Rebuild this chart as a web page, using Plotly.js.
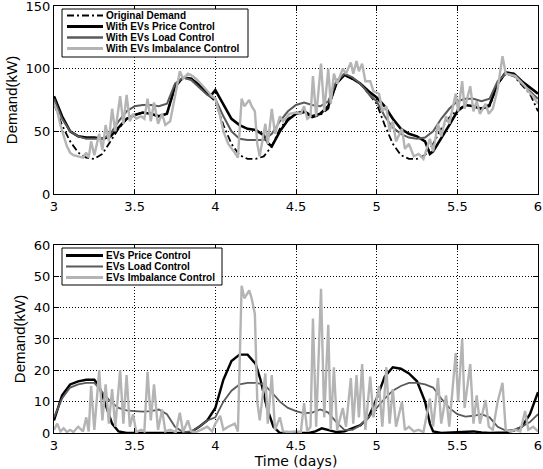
<!DOCTYPE html>
<html><head><meta charset="utf-8">
<script src="https://cdn.plot.ly/plotly-3.0.1.min.js"></script>
<style>html,body{margin:0;padding:0;background:#fff;}#chart{width:543px;height:469px;}</style>
</head><body><div id="chart"></div>
<script>
// ---------- data ----------
const tickVals = [3, 3.5, 4, 4.5, 5, 5.5, 6];
const tickText = ['3', '3.5', '4', '4.5', '5', '5.5', '6'];

// smooth series sampled every 0.05 day
const tStd = [3.00,3.05,3.10,3.15,3.20,3.25,3.30,3.35,3.40,3.45,3.50,3.55,3.60,3.65,3.70,3.75,3.80,3.85,3.90,3.95,
              4.00,4.05,4.10,4.15,4.20,4.25,4.30,4.35,4.40,4.45,4.50,4.55,4.60,4.65,4.70,4.75,4.80,4.85,4.90,4.95,
              5.00,5.05,5.10,5.15,5.20,5.25,5.30,5.35,5.40,5.45,5.50,5.55,5.60,5.65,5.70,5.75,5.80,5.85,5.90,5.95,6.00];
const originalDemand = [72,55,42,33,29,28,32,42,52,60, 63,65,64,62,64,85,93,92,87,80,
                        74,55,40,31,28,28,30,38,52,60, 64,65,61,63,68,88,95,92,88,80,
                        72,55,40,31,28,28,31,40,52,61, 67,71,70,68,70,88,96,94,87,80, 66];
const loadTop = [76,60,50,46,44,44,44,48,58,66, 70,71,71,70,72,88,93,91,85,79,
                 76,62,50,44,43,43,43,48,58,66, 71,73,71,70,74,90,96,93,88,80,
                 74,62,53,48,45,44,45,50,60,68, 74,76,76,74,76,90,96,95,88,82, 76];
const loadEV = [5,11,14.5,15.5,16,16,13,10,8,7.2, 7,6.8,7,7.5,6,2,0.3,0.5,2,4,
                5,10,13.5,15.5,16,16,15.5,13,10,8, 7,6.3,6.5,7.5,6.5,3.5,1,1,2.5,5,
                8,11,13.5,15,16,16,15.5,14.5,11,8, 6,5.2,5.5,6,5,2,0.8,1,2,3.5, 6];

// price control (top)
const tPriceTop = [3.00,3.05,3.10,3.15,3.20,3.25,3.30,3.35,3.40,3.45,3.50,3.55,3.60,3.65,3.70,3.75,3.80,3.85,3.90,3.95,3.97,
                   4.00,4.05,4.10,4.15,4.20,4.25,4.30,4.33,4.35,4.40,4.45,4.50,4.55,4.60,4.65,4.70,4.75,4.80,4.85,4.90,4.95,
                   5.00,5.05,5.10,5.15,5.20,5.25,5.30,5.33,5.35,5.40,5.45,5.50,5.55,5.60,5.65,5.70,5.75,5.80,5.85,5.90,5.95,6.00];
const priceTop = [78,62,50,46,45,45,44,46,53,60,63,65,64,62,64,86,93,92,87,80,78,
                  83,72,60,55,52,51,47,40,38,50,59,64,66,62,64,70,88,95,92,88,82,
                  77,70,60,52,48,46,42,32,34,44,55,66,71,70,68,71,88,97,96,90,85,80];

// price control (bottom, EV demand)
const tPriceEV = [3.00,3.05,3.10,3.15,3.20,3.25,3.28,3.32,3.36,3.40,3.45,3.80,3.85,3.90,3.95,
                  4.00,4.05,4.10,4.15,4.20,4.25,4.28,4.32,4.36,4.40,4.58,4.62,4.66,4.70,4.75,4.80,4.85,4.90,4.95,
                  5.00,5.05,5.10,5.15,5.20,5.25,5.30,5.33,5.35,5.40,5.55,5.60,5.65,5.70,5.80,5.85,5.90,5.95,6.00];
const priceEV = [4,12,15.5,16.5,17,17,15,9,3,0.5,0,0,0.3,2,4,
                 8,17,23,25,25,22,17,8,2,0,0,0.5,1.5,1,0.3,0.5,1.5,2.5,5,
                 11,18,21,20.5,19,16.5,10,3,0.5,0,0.3,0.5,0.2,0,0.2,0.8,2,6,13];

// imbalance control (jagged)
const tImb = [3.00,3.02,3.04,3.06,3.08,3.10,3.12,3.15,3.18,3.20,3.215,3.23,3.25,3.28,3.30,3.32,3.34,3.36,3.38,3.41,
              3.43,3.45,3.47,3.49,3.51,3.54,3.56,3.58,3.60,3.62,3.645,3.67,3.69,3.72,3.755,3.78,3.80,3.83,3.85,3.88,
              3.91,3.95,3.98,4.00,4.03,4.05,4.08,4.12,4.14,4.163,4.18,4.21,4.225,4.245,4.26,4.275,4.31,4.325,4.35,4.37,
              4.40,4.42,4.46,4.50,4.53,4.55,4.57,4.59,4.605,4.625,4.655,4.675,4.70,4.715,4.735,4.755,4.79,4.81,4.84,4.855,
              4.875,4.89,4.91,4.93,4.96,4.98,5.015,5.035,5.06,5.08,5.10,5.12,5.157,5.175,5.20,5.23,5.26,5.29,5.33,5.35,
              5.38,5.40,5.43,5.45,5.49,5.505,5.53,5.545,5.58,5.60,5.62,5.64,5.675,5.695,5.72,5.75,5.78,5.80,5.83,5.86,
              5.89,5.92,5.94,5.97,6.00];
const imbTop = [72,66,55,46,38,33,31,30,29,33,29,42,31,48,35,55,42,68,50,78,
                56,79,58,64,60,62,60,76,58,73,56,64,55,58,80,98,92,96,95,92,
                88,82,78,76,62,50,40,33,29,76,70,75,70,66,40,30,56,40,68,48,
                62,58,64,65,64,70,60,62,94,62,104,66,100,72,96,88,100,96,105,96,
                106,98,104,90,90,82,80,66,70,50,58,42,52,36,40,30,32,28,44,34,
                56,46,62,56,80,66,90,68,86,66,74,64,72,64,68,84,110,96,95,94,
                90,86,82,78,72];
const imbEV = [1,3,0.5,1.5,0.3,1,0.3,2,0.5,5,0.5,15,1,20,4,15.5,3,14,2,20,
               3,18.5,2,6,0.3,1,0.5,19.5,4,15.5,1,7.5,0.5,1,0.3,6.5,0.3,4,0.5,0.3,
               1,2,0.5,3,5.5,1,2,3,0.5,47,43,45.5,43,38,10,4,19,3,18.5,1,
               5,0.5,0.3,0.5,0.3,9.5,0.5,2,36.5,2,46,5,34.5,1,21,1,8,2,17.5,3,
               18.5,5,22,1,18,5,15,2,21,3,14,2,10,1,2,0.5,1,0.3,11,2,
               17.5,3,12,2,25.5,10,30,8,22,3,12,3,10.5,2,1,10,16,1,0.5,1,
               0.5,7,1,2,0.5];

// ---------- styles ----------
const cBlack = '#000000', cLoad = '#5a5a5a', cImb = '#b4b4b4';
const dashDot = '7px,3px,2px,3px';

const traces = [
  {x: tStd, y: originalDemand, name: 'Original Demand', xaxis: 'x', yaxis: 'y', mode: 'lines',
   line: {color: cBlack, width: 1.8, dash: dashDot}},
  {x: tPriceTop, y: priceTop, name: 'With EVs Price Control', xaxis: 'x', yaxis: 'y', mode: 'lines',
   line: {color: cBlack, width: 2.6}},
  {x: tStd, y: loadTop, name: 'With EVs Load Control', xaxis: 'x', yaxis: 'y', mode: 'lines',
   line: {color: cLoad, width: 2}},
  {x: tImb, y: imbTop, name: 'With EVs Imbalance Control', xaxis: 'x', yaxis: 'y', mode: 'lines',
   line: {color: cImb, width: 2.4}},
  {x: tPriceEV, y: priceEV, name: 'EVs Price Control', xaxis: 'x2', yaxis: 'y2', mode: 'lines',
   line: {color: cBlack, width: 2.4}},
  {x: tStd, y: loadEV, name: 'EVs Load Control', xaxis: 'x2', yaxis: 'y2', mode: 'lines',
   line: {color: cLoad, width: 1.8}},
  {x: tImb, y: imbEV, name: 'EVs Imbalance Control', xaxis: 'x2', yaxis: 'y2', mode: 'lines',
   line: {color: cImb, width: 2.4}}
];
traces.forEach(t => { t.showlegend = false; t.hoverinfo = 'skip'; });

// ---------- layout ----------
const W = 543, H = 469, ML = 54, MR = 5, MT = 6, MB = 36;
const pxX = v => (v - ML) / (W - ML - MR);
const pxY = v => (H - MB - v) / (H - MT - MB);

const tickFont = {family: 'DejaVu Sans, Arial, sans-serif', size: 13, color: '#000'};
const baseAxis = {
  showline: true, linecolor: '#000', linewidth: 1, mirror: 'ticks',
  ticks: 'inside', ticklen: 5, tickcolor: '#000', tickwidth: 1,
  showgrid: true, gridcolor: '#000', gridwidth: 1, griddash: '1px,2px',
  zeroline: false, tickfont: tickFont, fixedrange: true, ticklabeloverflow: 'allow'
};
const xBase = Object.assign({}, baseAxis, {range: [3, 6], tickmode: 'array', tickvals: tickVals, ticktext: tickText});

// custom legends
function legendItems(box, rows, x0, x1, tx, entries) {
  const shapes = [{type: 'rect', xref: 'paper', yref: 'paper', x0: pxX(box[0]), x1: pxX(box[2]),
                   y0: pxY(box[1]), y1: pxY(box[3]), line: {color: '#000', width: 1}, fillcolor: '#fff', layer: 'above'}];
  const anns = [];
  entries.forEach((e, i) => {
    shapes.push({type: 'line', xref: 'paper', yref: 'paper', x0: pxX(x0), x1: pxX(x1), y0: pxY(rows[i]), y1: pxY(rows[i]),
                 line: {color: e.line.color, width: e.line.width + 0.4, dash: e.line.dash || 'solid'}, layer: 'above'});
    anns.push({xref: 'paper', yref: 'paper', x: pxX(tx), y: pxY(rows[i]), xanchor: 'left', yanchor: 'middle',
               showarrow: false, text: '<b>' + e.name + '</b>', borderpad: 0,
               font: {family: 'Arial, Liberation Sans, sans-serif', size: 10, color: '#000'}});
  });
  return {shapes, anns};
}
const legTop = legendItems([62, 9, 248, 57], [15.5, 26.5, 37.5, 48.5], 67, 103, 105, traces.slice(0, 4));
const legBot = legendItems([62, 248, 222, 285], [255.5, 266.5, 277.5], 66, 103, 105, traces.slice(4, 7));

const titleFont = {family: 'Liberation Sans Narrow, Arial Narrow, Arial, sans-serif', size: 15, color: '#000'};
const layout = {
  width: W, height: H, margin: {l: ML, r: MR, t: MT, b: MB},
  paper_bgcolor: '#fff', plot_bgcolor: '#fff', showlegend: false,
  xaxis: Object.assign({}, xBase, {domain: [0, 1], anchor: 'y'}),
  yaxis: Object.assign({}, baseAxis, {domain: [0.5597, 1], anchor: 'x', range: [0, 150], tickvals: [0, 50, 100, 150],
          title: {text: 'Demand(kW)', font: titleFont, standoff: 4}}),
  xaxis2: Object.assign({}, xBase, {domain: [0, 1], anchor: 'y2',
          title: {text: 'Time (days)', font: {family: 'DejaVu Sans, Arial, sans-serif', size: 14, color: '#000'}, standoff: 0}}),
  yaxis2: Object.assign({}, baseAxis, {domain: [0, 0.4403], anchor: 'x2', range: [0, 60], tickvals: [0, 10, 20, 30, 40, 50, 60],
          title: {text: 'Demand(kW)', font: titleFont, standoff: 4}}),
  shapes: legTop.shapes.concat(legBot.shapes),
  annotations: legTop.anns.concat(legBot.anns)
};

Plotly.newPlot('chart', traces, layout, {staticPlot: true, displayModeBar: false});
</script>
</body></html>
